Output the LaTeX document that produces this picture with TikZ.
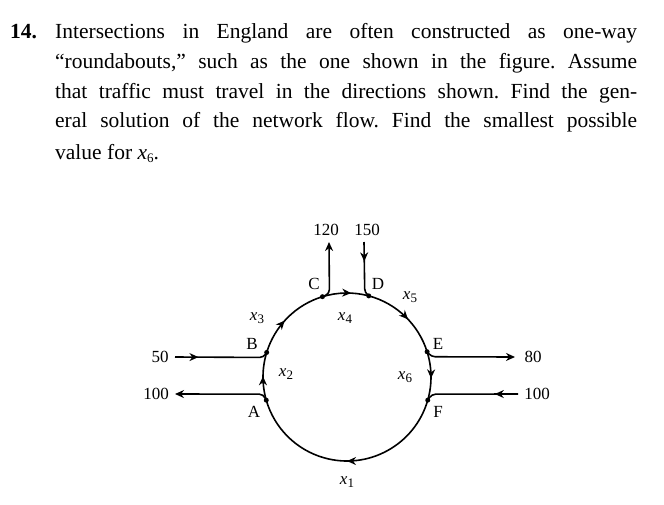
\documentclass[tikz,border=0pt]{standalone}
\usepackage{fontspec}
\setmainfont{Liberation Serif}
\usetikzlibrary{arrows.meta,decorations.markings,calc}
\newcommand{\xv}[1]{\textit{x}\raisebox{-0.35ex}{\fontsize{13}{13}\selectfont #1}}
\frenchspacing
\begin{document}
\begin{tikzpicture}[x=1pt,y=-1pt,
  road/.style={line width=1.6pt},
  midarr/.style={postaction={decorate},decoration={markings,mark=at position #1 with {\arrow{Stealth[length=9pt,width=8pt]}}}},
  endarr/.style={-{Stealth[length=9pt,width=8pt]}},
  dot/.style={circle,fill,inner sep=0pt,minimum size=5pt},
  lab/.style={font=\fontsize{17}{17}\selectfont,inner sep=0pt},
  txt/.style={anchor=base west,inner sep=0pt,font=\fontsize{21.5}{30}\selectfont}]
\useasboundingbox (0,0) rectangle (664,504);
% problem text
\node[txt] (n14) at (10,38) {\textbf{14.}};
\node[txt] (l1) at (55,38) {\makebox[582pt][s]{Intersections in England are often constructed as one-way}};
\node[txt] (l2) at (55,68) {\makebox[582pt][s]{``roundabouts,'' such as the one shown in the figure. Assume}};
\node[txt] (l3) at (55,98) {\makebox[582pt][s]{that traffic must travel in the directions shown. Find the gen-}};
\node[txt] (l4) at (55,127) {\makebox[582pt][s]{eral solution of the network flow. Find the smallest possible}};
\node[txt] (l5) at (55,159) {value for \xv{6}.};
% roundabout
\coordinate (O) at (347,377);
\def\R{84}
\coordinate (A) at ($(O)+(164:\R)$);
\coordinate (B) at ($(O)+(197:\R)$);
\coordinate (C) at ($(O)+(253:\R)$);
\coordinate (D) at ($(O)+(285:\R)$);
\coordinate (E) at ($(O)+(342.5:\R)$);
\coordinate (F) at ($(O)+(16:\R)$);
\draw[road,midarr=0.5] (A) arc[start angle=164,end angle=197,radius=\R];
\draw[road,midarr=0.45] (B) arc[start angle=197,end angle=253,radius=\R];
\draw[road,midarr=0.62] (C) arc[start angle=253,end angle=285,radius=\R];
\draw[road,midarr=0.55] (D) arc[start angle=285,end angle=342.5,radius=\R];
\draw[road,midarr=0.55] (E) arc[start angle=342.5,end angle=376,radius=\R];
\draw[road,midarr=0.5] (F) arc[start angle=16,end angle=164,radius=\R];
\foreach \p in {A,B,C,D,E,F} \node[dot] at (\p) {};
% external roads
\coordinate (w50) at (175,357);
\coordinate (w100) at (175,394);
\coordinate (e80) at (515,357);
\coordinate (e100) at (518,394);
\coordinate (n120) at (329,242);
\coordinate (n150) at (364,242);
\draw[road,midarr=0.25,rounded corners=4pt] (w50) -- ($(B)+(-3,5)$) -- (B);
\draw[road,endarr,rounded corners=4pt] (A) -- ($(A)+(-3,-6)$) -- (w100);
\draw[road,endarr,rounded corners=4pt] (E) -- ($(E)+(4,5)$) -- (e80);
\draw[road,midarr=0.25,rounded corners=4pt] (e100) -- ($(F)+(4,-6)$) -- (F);
\draw[road,endarr,rounded corners=4pt] (C) -- ($(C)+(7,-3)$) -- (n120);
\draw[road,midarr=0.35,rounded corners=4pt] (n150) -- ($(D)+(-4,-3)$) -- (D);
% labels
\node[lab] (t50) at (160,357) {50};
\node[lab] (t100l) at (156,394) {100};
\node[lab] (t80) at (533,357) {80};
\node[lab] (t100r) at (537,394) {100};
\node[lab] (t120) at (326,230) {120};
\node[lab] (t150) at (367,230) {150};
\node[lab] (lA) at (254,412) {A};
\node[lab] (lB) at (252,344) {B};
\node[lab] (lC) at (314,284) {C};
\node[lab] (lD) at (378,284) {D};
\node[lab] (lE) at (438,344) {E};
\node[lab] (lF) at (438,412) {F};
\node[lab] (x1) at (347,482) {\xv{1}};
\node[lab] (x2) at (286,374) {\xv{2}};
\node[lab] (x3) at (257,318) {\xv{3}};
\node[lab] (x4) at (345,318) {\xv{4}};
\node[lab] (x5) at (410,297) {\xv{5}};
\node[lab] (x6) at (405,377) {\xv{6}};
\end{tikzpicture}
\end{document}
